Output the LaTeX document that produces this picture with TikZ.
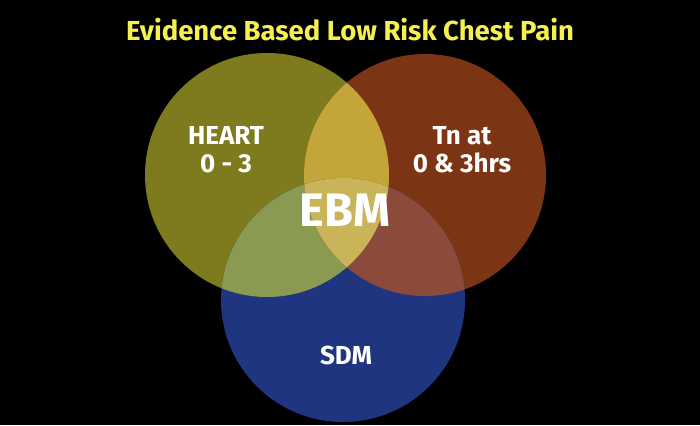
\documentclass[tikz,border=0pt]{standalone}
\usepackage{fontspec}
\setmainfont{Fira Sans}
\usepackage{xcolor}
\definecolor{heartcol}{HTML}{7E7A1E}
\definecolor{tncol}{HTML}{7B3514}
\definecolor{sdmcol}{HTML}{1F3580}
\definecolor{htcol}{HTML}{C4A53A}
\definecolor{hscol}{HTML}{8A9A50}
\definecolor{tscol}{HTML}{8B4A3A}
\definecolor{allcol}{HTML}{C9B45A}
\definecolor{titlecol}{HTML}{F5F050}
\tikzset{
  lbl/.style={text=white, font=\bfseries\fontsize{26}{28}\selectfont, align=center},
}
\begin{document}
\begin{tikzpicture}[x=1pt,y=-1pt]
    \fill[black] (0,0) rectangle (700,425);
    \useasboundingbox (0,0) rectangle (700,425);

    \coordinate (h) at (267,175);
    \coordinate (t) at (425,175);
    \coordinate (s) at (343,300);

    \fill[heartcol] (h) circle (122);
    \fill[tncol] (t) circle (121);
    \fill[sdmcol] (s) circle (122);
    \begin{scope}
      \clip (h) circle (122);
      \fill[htcol] (t) circle (121);
      \fill[hscol] (s) circle (122);
    \end{scope}
    \begin{scope}
      \clip (t) circle (121);
      \fill[tscol] (s) circle (122);
    \end{scope}
    \begin{scope}
      \clip (h) circle (122);
      \clip (t) circle (121);
      \fill[allcol] (s) circle (122);
    \end{scope}

    \node[text=titlecol, font=\bfseries\fontsize{27.5}{30}\selectfont] (title) at (350,30) {Evidence Based Low Risk Chest Pain};
    \node[lbl] (heart) at (226,150) {HEART\\0 - 3};
    \node[lbl] (tn) at (462,150) {Tn at\\0 \& 3hrs};
    \node[lbl, font=\bfseries\fontsize{47}{50}\selectfont] (ebm) at (345,210) {EBM};
    \node[lbl] (sdm) at (346,355) {SDM};
\end{tikzpicture}
\end{document}
